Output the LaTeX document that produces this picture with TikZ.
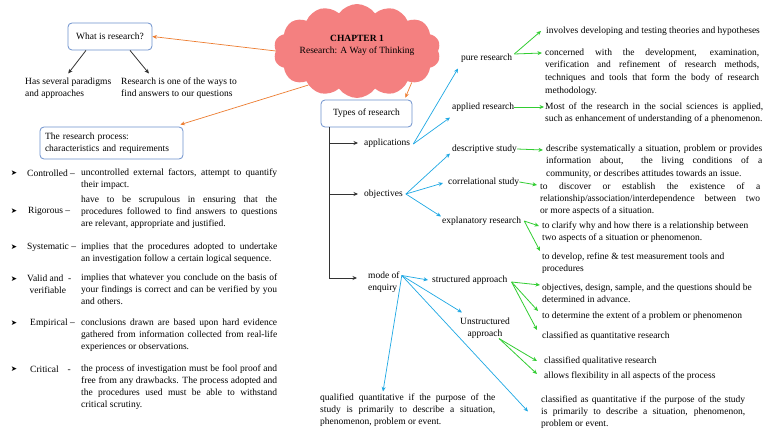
\documentclass[tikz,border=0pt]{standalone}
\usepackage{fontspec}
\setmainfont{Liberation Serif}
\newfontfamily\symfont{DejaVu Sans}
\usepackage{xcolor}
\usetikzlibrary{arrows.meta, positioning, shapes.symbols}

\definecolor{cloudred}{RGB}{244,128,128}
\definecolor{boxblue}{RGB}{110,145,205}
\definecolor{orline}{RGB}{237,125,49}
\definecolor{skyline}{RGB}{30,168,228}
\definecolor{leafline}{RGB}{50,205,50}

\newcommand{\fsz}{\fontsize{9.5}{12}\selectfont}
\newcommand{\fszr}{\fontsize{9.5}{12.6}\selectfont}

\begin{document}
\begin{tikzpicture}[x=1pt, y=-1pt,
  txt/.style={inner sep=0pt, font=\fsz, align=left},
  ptxt/.style={txt, align=justify, text width=#1},
  rbox/.style={draw=boxblue, line width=0.8pt, rounded corners=4pt, fill=white, font=\fsz},
  orarr/.style={draw=orline, line width=0.7pt, -{Stealth[length=4.5pt,width=4pt]}},
  blkarr/.style={draw=black!80, line width=0.8pt, -{Stealth[length=4.5pt,width=4pt]}},
  skyarr/.style={draw=skyline, line width=0.7pt, -{Stealth[length=4.5pt,width=4pt]}},
  leafarr/.style={draw=leafline, line width=0.8pt, -{Stealth[length=4.5pt,width=4pt]}},
  bul/.style={inner sep=0pt, font=\symfont\fontsize{7.5}{7.5}\selectfont}
]
  \path[use as bounding box, fill=white] (0,0) rectangle (768,433);

  \node[cloud, cloud puffs=14, cloud puff arc=110, aspect=2.1, fill=cloudred, minimum width=158pt, minimum height=78pt, inner sep=0pt, font=\fsz, align=center] (ch) at (357,51) {\textbf{CHAPTER 1}\\Research: A Way of Thinking\\[2pt]};

  % what is research
  \node[rbox, minimum width=84pt, minimum height=27pt] (what) at (110,36.5) {What is research?};
  \node[txt, font=\fszr, anchor=north west] (para) at (25,77.5) {Has several paradigms\\and approaches};
  \node[txt, font=\fszr, anchor=north west] (ways) at (121,77.5) {Research is one of the ways to\\find answers to our questions};
  \draw[orarr] (ch.west) -- (what.east);
  \draw[blkarr] ([xshift=-24pt]what.south) -- ([xshift=0pt,yshift=4pt]para.north);
  \draw[blkarr] ([xshift=20pt]what.south) -- ([xshift=-30pt,yshift=4pt]ways.north);

  % research process
  \node[rbox, minimum width=143pt, minimum height=32pt, text width=133pt, align=left] (proc) at (111.5,143) {The research process:\\characteristics and requirements};
  \draw[orarr] (ch.215) -- ([xshift=-3pt,yshift=2pt]proc.north east);

  \foreach \y in {173,211,247,279,323,369}
    \node[bul] (b\y) at (14,\y) {➤};
  \node[txt, anchor=west] (l1) at (27,173) {Controlled --};
  \node[ptxt=196pt, anchor=north west] (d1) at (81,168.5) {uncontrolled external factors, attempt to quantify\linebreak their impact.};
  \node[txt, anchor=west] (l2) at (28,211) {Rigorous --};
  \node[ptxt=196pt, anchor=north west] (d2) at (81,195.5) {have to be scrupulous in ensuring that the\linebreak procedures followed to find answers to questions\linebreak are relevant, appropriate and justified.};
  \node[txt, anchor=west] (l3) at (27,247) {Systematic --};
  \node[ptxt=196pt, anchor=north west] (d3) at (81,242.5) {implies that the procedures adopted to undertake\linebreak an investigation follow a certain logical sequence.};
  \node[txt, anchor=north west] (l4) at (27,274.5) {Valid and\ \ -\\\ verifiable};
  \node[ptxt=196pt, anchor=north west] (d4) at (81,273.5) {implies that whatever you conclude on the basis of\linebreak your findings is correct and can be verified by you\linebreak and others.};
  \node[txt, anchor=west] (l5) at (30,323) {Empirical --};
  \node[ptxt=196pt, anchor=north west] (d5) at (81,318.5) {conclusions drawn are based upon hard evidence\linebreak gathered from information collected from real-life\linebreak experiences or observations.};
  \node[txt, anchor=west] (l6) at (30,369) {Critical\hspace{9pt}-};
  \node[ptxt=196pt, anchor=north west] (d6) at (81,364.5) {the process of investigation must be fool proof and\linebreak free from any drawbacks. The process adopted and\linebreak the procedures used must be able to withstand\linebreak critical scrutiny.};

  % types of research
  \node[rbox, minimum width=91pt, minimum height=27pt] (types) at (366.5,113.5) {Types of research};
  \draw[orarr] (ch.-30) -- ([xshift=-7pt,yshift=2pt]types.north east);
  \coordinate (trunk) at ([xshift=9pt]types.south west);
  \node[txt, anchor=west] (appl) at (364,143) {applications};
  \node[txt, anchor=west] (obj) at (364,194) {objectives};
  \node[txt, font=\fszr, anchor=north west] (mode) at (368,271.5) {mode of\\enquiry};
  \draw[blkarr] (trunk |- appl.west) -- ([xshift=-6pt]appl.west);
  \draw[blkarr] (trunk |- obj.west) -- ([xshift=-6pt]obj.west);
  \draw[blkarr] (trunk) |- ([xshift=-11pt,yshift=-6.5pt]mode.north west);

  \node[txt, anchor=west] (pure) at (461,58) {pure research};
  \node[txt, anchor=west] (applied) at (452,107) {applied research};
  \node[txt, anchor=west] (descr) at (452,149) {descriptive study};
  \node[txt, anchor=west] (correl) at (448,182) {correlational study};
  \node[txt, anchor=west] (expl) at (442,221) {explanatory research};
  \node[txt, anchor=west] (struct) at (432,280) {structured approach};
  \node[txt, anchor=north, align=center] (unstr) at (485,317.5) {Unstructured\\approach};
  \node[ptxt=175pt, anchor=north west] (qual) at (320,393.5) {qualified quantitative if the purpose of the\linebreak study is primarily to describe a situation,\linebreak phenomenon, problem or event.};
  \node[ptxt=204pt, anchor=north west] (clq) at (541,395.5) {classified as quantitative if the purpose of the study\linebreak is primarily to describe a situation, phenomenon,\linebreak problem or event.};

  \draw[skyarr] ([xshift=3pt,yshift=-1pt]appl.east) -- ([xshift=-3pt,yshift=-6pt]pure.south west);
  \draw[skyarr] ([xshift=3pt,yshift=-1pt]appl.east) -- ([xshift=-2pt,yshift=-6pt]applied.south west);
  \draw[skyarr] ([xshift=3pt]obj.east) -- ([xshift=-2pt]descr.south west);
  \draw[skyarr] ([xshift=3pt]obj.east) -- ([xshift=-5pt,yshift=-1pt]correl.west);
  \draw[skyarr] ([xshift=3pt]obj.east) -- ([xshift=-1pt]expl.north west);
  \draw[skyarr] ([xshift=2pt,yshift=-4pt]mode.north east) -- ([xshift=-4pt]struct.west);
  \draw[skyarr] ([xshift=2pt,yshift=-4pt]mode.north east) -- ([xshift=-23pt,yshift=5pt]unstr.north);
  \draw[skyarr] ([xshift=2pt,yshift=-4pt]mode.north east) -- ([xshift=63pt,yshift=2pt]qual.north west);
  \draw[skyarr] ([xshift=2pt,yshift=-4pt]mode.north east) -- ([xshift=-13pt,yshift=-16pt]clq.north west);

  % leaves
  \node[txt, anchor=west] (inv) at (546,31) {involves developing and testing theories and hypotheses};
  \node[ptxt=214pt, font=\fszr, anchor=north west] (conc) at (545,48.5) {concerned with the development, examination,\linebreak verification and refinement of research methods,\linebreak techniques and tools that form the body of research\linebreak methodology.};
  \node[ptxt=218pt, font=\fszr, anchor=north west] (most) at (545,102.5) {Most of the research in the social sciences is applied,\linebreak such as enhancement of understanding of a phenomenon.};
  \node[ptxt=216pt, font=\fszr, anchor=north west] (dtxt) at (546,144.5) {describe systematically a situation, problem or provides\linebreak information about,\ \ the living conditions of a\linebreak community, or describes attitudes towards an issue.};
  \node[ptxt=220pt, anchor=north west] (ctxt) at (540,183) {to discover or establish the existence of a\linebreak relationship/association/interdependence between two\linebreak or more aspects of a situation.};
  \node[txt, anchor=north west] (clar) at (542,221.5) {to clarify why and how there is a relationship between\\two aspects of a situation or phenomenon.};
  \node[txt, anchor=north west] (dev) at (542,252.5) {to develop, refine \& test measurement tools and\\procedures};
  \node[txt, anchor=north west] (odes) at (542,283.5) {objectives, design, sample, and the questions should be\\determined in advance.};
  \node[txt, anchor=west] (ext) at (542,316) {to determine the extent of a problem or phenomenon};
  \node[txt, anchor=west] (cq) at (542,336) {classified as quantitative research};
  \node[txt, anchor=west] (qr) at (544,361) {classified qualitative research};
  \node[txt, anchor=west] (flex) at (544,376) {allows flexibility in all aspects of the process};

  \draw[leafarr] ([xshift=2pt,yshift=4pt]pure.east) -- ([xshift=-5pt]inv.west);
  \draw[leafarr] ([xshift=2pt,yshift=4pt]pure.east) -- ([xshift=-3pt,yshift=-4.5pt]conc.north west);
  \draw[leafarr] (applied.east) -- ([xshift=-1pt,yshift=-4.5pt]most.north west);
  \draw[leafarr] (descr.east) -- ([xshift=-3pt,yshift=-5.5pt]dtxt.north west);
  \draw[leafarr] (correl.east) -- ([xshift=-3pt,yshift=-2pt]ctxt.north west);
  \draw[leafarr] ([xshift=3pt]expl.east) -- ([xshift=-3pt,yshift=-4.5pt]clar.north west);
  \draw[leafarr] ([xshift=3pt]expl.east) -- ([xshift=-2pt,yshift=1.5pt]dev.north west);
  \draw[leafarr] ([xshift=4pt,yshift=-2pt]struct.east) -- ([xshift=-2pt,yshift=-1.5pt]odes.north west);
  \draw[leafarr] ([xshift=4pt,yshift=-2pt]struct.east) -- ([xshift=-4pt,yshift=5pt]ext.west);
  \draw[leafarr] ([xshift=4pt,yshift=-2pt]struct.east) -- ([xshift=-5pt,yshift=6pt]cq.west);
  \draw[leafarr] ([xshift=-11pt]unstr.south east) -- ([xshift=-7pt]qr.west);
  \draw[leafarr] ([xshift=-11pt]unstr.south east) -- ([xshift=-7pt,yshift=2pt]flex.west);
\end{tikzpicture}
\end{document}
